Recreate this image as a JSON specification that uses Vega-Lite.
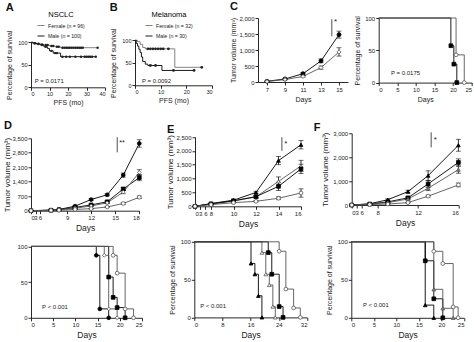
{
"$schema": "https://vega.github.io/schema/vega-lite/v6.json",
"padding": {"left": 3, "top": 1, "right": 0, "bottom": 0},
"background": "white",
"config": {
  "font": "Liberation Sans",
  "view": {"stroke": null},
  "axis": {"grid": false, "domainColor": "#111", "tickColor": "#111", "labelColor": "#222", "titleColor": "#222", "labelFontSize": 6, "titleFontSize": 7, "titleFontWeight": "normal", "tickSize": 3, "labelPadding": 1, "titlePadding": 3, "domainWidth": 0.9, "tickWidth": 0.9, "labelOverlap": false},
  "legend": {"labelFontSize": 5, "labelColor": "#222", "symbolSize": 14, "rowPadding": 2, "labelOffset": 3, "symbolStrokeWidth": 0.8, "padding": 0},
  "title": {"fontSize": 11, "fontWeight": "bold", "anchor": "start", "frame": "bounds", "color": "#111"},
  "text": {"fontSize": 6, "color": "#222"},
  "line": {"strokeWidth": 0.9}
},
"datasets": {
  "A": [
    {"g":"Female (n = 96)","t":0,"s":100},{"g":"Female (n = 96)","t":1,"s":98},{"g":"Female (n = 96)","t":3,"s":97},{"g":"Female (n = 96)","t":5,"s":95},{"g":"Female (n = 96)","t":7,"s":94},{"g":"Female (n = 96)","t":10,"s":92},{"g":"Female (n = 96)","t":13,"s":90},{"g":"Female (n = 96)","t":16,"s":88},{"g":"Female (n = 96)","t":36,"s":88},
    {"g":"Male (n = 100)","t":0,"s":100},{"g":"Male (n = 100)","t":1,"s":98},{"g":"Male (n = 100)","t":3,"s":96},{"g":"Male (n = 100)","t":5,"s":94},{"g":"Male (n = 100)","t":7,"s":90},{"g":"Male (n = 100)","t":9,"s":86},{"g":"Male (n = 100)","t":10,"s":81},{"g":"Male (n = 100)","t":12,"s":76},{"g":"Male (n = 100)","t":16,"s":68},{"g":"Male (n = 100)","t":35,"s":68}
  ],
  "Acens": [
    {"g":"Female (n = 96)","t":2,"s":98},{"g":"Female (n = 96)","t":4,"s":97},{"g":"Female (n = 96)","t":6,"s":95},{"g":"Female (n = 96)","t":8,"s":94},{"g":"Female (n = 96)","t":9,"s":94},{"g":"Female (n = 96)","t":11,"s":92},{"g":"Female (n = 96)","t":12,"s":92},{"g":"Female (n = 96)","t":14,"s":90},{"g":"Female (n = 96)","t":15,"s":90},{"g":"Female (n = 96)","t":17,"s":88},{"g":"Female (n = 96)","t":18,"s":88},{"g":"Female (n = 96)","t":19,"s":88},{"g":"Female (n = 96)","t":20,"s":88},{"g":"Female (n = 96)","t":21,"s":88},{"g":"Female (n = 96)","t":22,"s":88},{"g":"Female (n = 96)","t":23,"s":88},{"g":"Female (n = 96)","t":24,"s":88},{"g":"Female (n = 96)","t":25,"s":88},{"g":"Female (n = 96)","t":26,"s":88},{"g":"Female (n = 96)","t":27,"s":88},{"g":"Female (n = 96)","t":28,"s":88},{"g":"Female (n = 96)","t":36,"s":88},
    {"g":"Male (n = 100)","t":2,"s":98},{"g":"Male (n = 100)","t":4,"s":96},{"g":"Male (n = 100)","t":6,"s":94},{"g":"Male (n = 100)","t":8,"s":90},{"g":"Male (n = 100)","t":11,"s":81},{"g":"Male (n = 100)","t":13,"s":76},{"g":"Male (n = 100)","t":14,"s":76},{"g":"Male (n = 100)","t":17,"s":68},{"g":"Male (n = 100)","t":19,"s":68},{"g":"Male (n = 100)","t":21,"s":68},{"g":"Male (n = 100)","t":24,"s":68},{"g":"Male (n = 100)","t":27,"s":68},{"g":"Male (n = 100)","t":29,"s":68},{"g":"Male (n = 100)","t":30,"s":68},{"g":"Male (n = 100)","t":31,"s":68},{"g":"Male (n = 100)","t":32,"s":68},{"g":"Male (n = 100)","t":33,"s":68},{"g":"Male (n = 100)","t":35,"s":68}
  ],
  "B": [
    {"g":"Female (n = 32)","t":0,"s":100},{"g":"Female (n = 32)","t":1,"s":97},{"g":"Female (n = 32)","t":2,"s":91},{"g":"Female (n = 32)","t":3,"s":84},{"g":"Female (n = 32)","t":4,"s":81},{"g":"Female (n = 32)","t":15.5,"s":40},{"g":"Female (n = 32)","t":26,"s":40},
    {"g":"Male (n = 30)","t":0,"s":100},{"g":"Male (n = 30)","t":0.5,"s":93},{"g":"Male (n = 30)","t":1,"s":87},{"g":"Male (n = 30)","t":1.5,"s":80},{"g":"Male (n = 30)","t":2,"s":73},{"g":"Male (n = 30)","t":2.5,"s":63},{"g":"Male (n = 30)","t":3,"s":53},{"g":"Male (n = 30)","t":4,"s":47},{"g":"Male (n = 30)","t":5,"s":44},{"g":"Male (n = 30)","t":10.5,"s":33},{"g":"Male (n = 30)","t":23,"s":33}
  ],
  "Bcens": [
    {"g":"Female (n = 32)","t":5,"s":81},{"g":"Female (n = 32)","t":6,"s":81},{"g":"Female (n = 32)","t":7,"s":81},{"g":"Female (n = 32)","t":8,"s":81},{"g":"Female (n = 32)","t":9,"s":81},{"g":"Female (n = 32)","t":10,"s":81},{"g":"Female (n = 32)","t":11,"s":81},{"g":"Female (n = 32)","t":13,"s":81},{"g":"Female (n = 32)","t":26,"s":40},
    {"g":"Male (n = 30)","t":6,"s":44},{"g":"Male (n = 30)","t":8,"s":44},{"g":"Male (n = 30)","t":15,"s":33},{"g":"Male (n = 30)","t":23,"s":33}
  ],
  "C": [
    {"g":"Male + Anti-PD-1 Ab","day":7,"v":22,"e":8},{"g":"Male + Anti-PD-1 Ab","day":9,"v":95,"e":15},{"g":"Male + Anti-PD-1 Ab","day":11,"v":260,"e":35},{"g":"Male + Anti-PD-1 Ab","day":13,"v":660,"e":60},{"g":"Male + Anti-PD-1 Ab","day":15,"v":1480,"e":110},
    {"g":"Female + Anti-PD-1 Ab","day":7,"v":15,"e":6},{"g":"Female + Anti-PD-1 Ab","day":9,"v":75,"e":12},{"g":"Female + Anti-PD-1 Ab","day":11,"v":175,"e":25},{"g":"Female + Anti-PD-1 Ab","day":13,"v":450,"e":50},{"g":"Female + Anti-PD-1 Ab","day":15,"v":940,"e":130}
  ],
  "Cr": [
    {"g":"Male","t":0,"s":100},{"g":"Male","t":19.4,"s":57.1},{"g":"Male","t":20.2,"s":28.6},{"g":"Male","t":21,"s":0},
    {"g":"Female","t":0,"s":100},{"g":"Female","t":20.8,"s":42.9},{"g":"Female","t":23,"s":0}
  ],
  "D": [
    {"g":"Testosterone","day":0,"v":0,"e":0},{"g":"Testosterone","day":7,"v":30,"e":5},{"g":"Testosterone","day":8,"v":60,"e":10},{"g":"Testosterone","day":10,"v":220,"e":25},{"g":"Testosterone","day":12,"v":540,"e":40},{"g":"Testosterone","day":14,"v":770,"e":50},{"g":"Testosterone","day":16,"v":1720,"e":100},{"g":"Testosterone","day":18,"v":3250,"e":180},
    {"g":"Testosterone + Anti-PD-1 Ab","day":0,"v":0,"e":0},{"g":"Testosterone + Anti-PD-1 Ab","day":7,"v":20,"e":5},{"g":"Testosterone + Anti-PD-1 Ab","day":8,"v":45,"e":8},{"g":"Testosterone + Anti-PD-1 Ab","day":10,"v":160,"e":20},{"g":"Testosterone + Anti-PD-1 Ab","day":12,"v":280,"e":30},{"g":"Testosterone + Anti-PD-1 Ab","day":14,"v":430,"e":40},{"g":"Testosterone + Anti-PD-1 Ab","day":16,"v":1050,"e":80},{"g":"Testosterone + Anti-PD-1 Ab","day":18,"v":1600,"e":150},
    {"g":"Vehicle","day":0,"v":0,"e":0},{"g":"Vehicle","day":7,"v":25,"e":5},{"g":"Vehicle","day":8,"v":50,"e":8},{"g":"Vehicle","day":10,"v":120,"e":15},{"g":"Vehicle","day":12,"v":230,"e":25},{"g":"Vehicle","day":14,"v":380,"e":35},{"g":"Vehicle","day":16,"v":900,"e":80},{"g":"Vehicle","day":18,"v":1850,"e":130},
    {"g":"Vehicle + Anti-PD-1 Ab","day":0,"v":0,"e":0},{"g":"Vehicle + Anti-PD-1 Ab","day":7,"v":15,"e":4},{"g":"Vehicle + Anti-PD-1 Ab","day":8,"v":25,"e":5},{"g":"Vehicle + Anti-PD-1 Ab","day":10,"v":60,"e":10},{"g":"Vehicle + Anti-PD-1 Ab","day":12,"v":100,"e":15},{"g":"Vehicle + Anti-PD-1 Ab","day":14,"v":180,"e":25},{"g":"Vehicle + Anti-PD-1 Ab","day":16,"v":350,"e":50},{"g":"Vehicle + Anti-PD-1 Ab","day":18,"v":650,"e":60}
  ],
  "E": [
    {"g":"Sham + PBS","day":0,"v":0,"e":0},{"g":"Sham + PBS","day":8,"v":100,"e":15},{"g":"Sham + PBS","day":10,"v":220,"e":20},{"g":"Sham + PBS","day":12,"v":500,"e":40},{"g":"Sham + PBS","day":14,"v":1650,"e":150},{"g":"Sham + PBS","day":16,"v":2220,"e":150},
    {"g":"Orchiectomy + PBS","day":0,"v":0,"e":0},{"g":"Orchiectomy + PBS","day":8,"v":80,"e":10},{"g":"Orchiectomy + PBS","day":10,"v":190,"e":20},{"g":"Orchiectomy + PBS","day":12,"v":340,"e":40},{"g":"Orchiectomy + PBS","day":14,"v":900,"e":160},{"g":"Orchiectomy + PBS","day":16,"v":1460,"e":200},
    {"g":"Sham+ Anti-PD-1 Ab","day":0,"v":0,"e":0},{"g":"Sham+ Anti-PD-1 Ab","day":8,"v":90,"e":10},{"g":"Sham+ Anti-PD-1 Ab","day":10,"v":200,"e":20},{"g":"Sham+ Anti-PD-1 Ab","day":12,"v":350,"e":40},{"g":"Sham+ Anti-PD-1 Ab","day":14,"v":720,"e":150},{"g":"Sham+ Anti-PD-1 Ab","day":16,"v":1350,"e":170},
    {"g":"Orchiectomy+ Anti-PD-1 Ab","day":0,"v":0,"e":0},{"g":"Orchiectomy+ Anti-PD-1 Ab","day":8,"v":60,"e":10},{"g":"Orchiectomy+ Anti-PD-1 Ab","day":10,"v":130,"e":15},{"g":"Orchiectomy+ Anti-PD-1 Ab","day":12,"v":180,"e":25},{"g":"Orchiectomy+ Anti-PD-1 Ab","day":14,"v":290,"e":50},{"g":"Orchiectomy+ Anti-PD-1 Ab","day":16,"v":480,"e":150}
  ],
  "F": [
    {"g":"Male Arʷᵗ + PBS","day":0,"v":0,"e":0},{"g":"Male Arʷᵗ + PBS","day":7,"v":50,"e":10},{"g":"Male Arʷᵗ + PBS","day":9,"v":220,"e":40},{"g":"Male Arʷᵗ + PBS","day":11,"v":560,"e":60},{"g":"Male Arʷᵗ + PBS","day":13,"v":1230,"e":200},{"g":"Male Arʷᵗ + PBS","day":16,"v":2500,"e":250},
    {"g":"Male Arʷᵗ + Anti-PD-1 Ab","day":0,"v":0,"e":0},{"g":"Male Arʷᵗ + Anti-PD-1 Ab","day":7,"v":40,"e":10},{"g":"Male Arʷᵗ + Anti-PD-1 Ab","day":9,"v":130,"e":30},{"g":"Male Arʷᵗ + Anti-PD-1 Ab","day":11,"v":300,"e":50},{"g":"Male Arʷᵗ + Anti-PD-1 Ab","day":13,"v":880,"e":150},{"g":"Male Arʷᵗ + Anti-PD-1 Ab","day":16,"v":1780,"e":150},
    {"g":"Male Arᵀᶠᵐ + PBS","day":0,"v":0,"e":0},{"g":"Male Arᵀᶠᵐ + PBS","day":7,"v":30,"e":8},{"g":"Male Arᵀᶠᵐ + PBS","day":9,"v":100,"e":20},{"g":"Male Arᵀᶠᵐ + PBS","day":11,"v":250,"e":40},{"g":"Male Arᵀᶠᵐ + PBS","day":13,"v":700,"e":100},{"g":"Male Arᵀᶠᵐ + PBS","day":16,"v":1480,"e":150},
    {"g":"Male Arᵀᶠᵐ + Anti-PD-1 Ab","day":0,"v":0,"e":0},{"g":"Male Arᵀᶠᵐ + Anti-PD-1 Ab","day":7,"v":20,"e":5},{"g":"Male Arᵀᶠᵐ + Anti-PD-1 Ab","day":9,"v":40,"e":10},{"g":"Male Arᵀᶠᵐ + Anti-PD-1 Ab","day":11,"v":100,"e":20},{"g":"Male Arᵀᶠᵐ + Anti-PD-1 Ab","day":13,"v":370,"e":40},{"g":"Male Arᵀᶠᵐ + Anti-PD-1 Ab","day":16,"v":840,"e":80}
  ],
  "Ds": [
    {"g":"Testosterone","t":0,"s":100},{"g":"Testosterone","t":14.7,"s":87.5},{"g":"Testosterone","t":15.5,"s":12.5},{"g":"Testosterone","t":17.5,"s":0},
    {"g":"Testosterone + Anti-PD-1 Ab","t":0,"s":100},{"g":"Testosterone + Anti-PD-1 Ab","t":17.5,"s":57.1},{"g":"Testosterone + Anti-PD-1 Ab","t":18.5,"s":28.6},{"g":"Testosterone + Anti-PD-1 Ab","t":19.4,"s":14.3},{"g":"Testosterone + Anti-PD-1 Ab","t":21.2,"s":0},
    {"g":"Vehicle","t":0,"s":100},{"g":"Vehicle","t":16.5,"s":87.5},{"g":"Vehicle","t":17.5,"s":12.5},{"g":"Vehicle","t":19.4,"s":0},
    {"g":"Vehicle + Anti-PD-1 Ab","t":0,"s":100},{"g":"Vehicle + Anti-PD-1 Ab","t":18.5,"s":87.5},{"g":"Vehicle + Anti-PD-1 Ab","t":19.4,"s":62.5},{"g":"Vehicle + Anti-PD-1 Ab","t":21.2,"s":12.5},{"g":"Vehicle + Anti-PD-1 Ab","t":23.1,"s":0}
  ],
  "Es": [
    {"g":"Sham + PBS","t":0,"s":100},{"g":"Sham + PBS","t":16.1,"s":71.4},{"g":"Sham + PBS","t":17.2,"s":57.1},{"g":"Sham + PBS","t":18.2,"s":28.6},{"g":"Sham + PBS","t":19.2,"s":0},
    {"g":"Orchiectomy + PBS","t":0,"s":100},{"g":"Orchiectomy + PBS","t":19.2,"s":85.7},{"g":"Orchiectomy + PBS","t":20.3,"s":57.1},{"g":"Orchiectomy + PBS","t":21.3,"s":42.9},{"g":"Orchiectomy + PBS","t":22.3,"s":14.3},{"g":"Orchiectomy + PBS","t":23,"s":0},
    {"g":"Sham+ Anti-PD-1 Ab","t":0,"s":100},{"g":"Sham+ Anti-PD-1 Ab","t":21,"s":85.7},{"g":"Sham+ Anti-PD-1 Ab","t":22,"s":57.1},{"g":"Sham+ Anti-PD-1 Ab","t":24.1,"s":14.3},{"g":"Sham+ Anti-PD-1 Ab","t":25.2,"s":0},
    {"g":"Orchiectomy+ Anti-PD-1 Ab","t":0,"s":100},{"g":"Orchiectomy+ Anti-PD-1 Ab","t":24.1,"s":87.5},{"g":"Orchiectomy+ Anti-PD-1 Ab","t":26,"s":37.5},{"g":"Orchiectomy+ Anti-PD-1 Ab","t":28.2,"s":12.5},{"g":"Orchiectomy+ Anti-PD-1 Ab","t":30.1,"s":0}
  ],
  "Fs": [
    {"g":"Male Arʷᵗ + PBS","t":0,"s":100},{"g":"Male Arʷᵗ + PBS","t":16.4,"s":16.7},{"g":"Male Arʷᵗ + PBS","t":18.3,"s":0},
    {"g":"Male Arʷᵗ + Anti-PD-1 Ab","t":0,"s":100},{"g":"Male Arʷᵗ + Anti-PD-1 Ab","t":16.4,"s":75},{"g":"Male Arʷᵗ + Anti-PD-1 Ab","t":18.3,"s":25},{"g":"Male Arʷᵗ + Anti-PD-1 Ab","t":20.3,"s":0},
    {"g":"Male Arᵀᶠᵐ + PBS","t":0,"s":100},{"g":"Male Arᵀᶠᵐ + PBS","t":18.3,"s":37.5},{"g":"Male Arᵀᶠᵐ + PBS","t":20.3,"s":12.5},{"g":"Male Arᵀᶠᵐ + PBS","t":22.6,"s":0},
    {"g":"Male Arᵀᶠᵐ + Anti-PD-1 Ab","t":0,"s":100},{"g":"Male Arᵀᶠᵐ + Anti-PD-1 Ab","t":18.3,"s":87.5},{"g":"Male Arᵀᶠᵐ + Anti-PD-1 Ab","t":20.3,"s":71.4},{"g":"Male Arᵀᶠᵐ + Anti-PD-1 Ab","t":22.6,"s":14.3},{"g":"Male Arᵀᶠᵐ + Anti-PD-1 Ab","t":23.7,"s":0}
  ]
},
"spacing": 13.3,
"bounds": "full",
"resolve": {"scale": {"color": "independent", "fill": "independent", "stroke": "independent", "shape": "independent"}},
"vconcat": [
 {
  "spacing": 30, "bounds": "flush",
  "resolve": {"scale": {"color": "independent", "fill": "independent", "stroke": "independent", "shape": "independent"}},
  "hconcat": [
   {
    "title": {"text": "A", "offset": -2},
    "width": 74, "height": 69.3,
    "encoding": {
      "x": {"field": "t", "type": "quantitative", "scale": {"domain": [0, 40], "nice": false}, "axis": {"values": [0, 10, 20, 30, 40], "title": "PFS (mo)", "labelFontSize": 5.5, "titlePadding": 2}},
      "y": {"field": "s", "type": "quantitative", "scale": {"domain": [0, 100], "range": [69.3, 24.3], "nice": false}, "axis": {"values": [0, 50, 100], "title": "Percentage of survival", "labelFontSize": 5.5, "titlePadding": 5}}
    },
    "layer": [
      {"data": {"name": "A"}, "mark": {"type": "line", "interpolate": "step-after"},
       "encoding": {"stroke": {"field": "g", "type": "nominal", "scale": {"domain": ["Female (n = 96)", "Male (n = 100)"], "range": ["#777", "#000"]},
         "legend": {"orient": "none", "legendX": 6, "legendY": -7, "title": "NSCLC", "titleFontSize": 7.5, "titleFontWeight": "normal", "titleAnchor": "middle", "titlePadding": 3, "labelFontSize": 5.2, "symbolType": "stroke", "symbolSize": 50, "symbolStrokeWidth": 1.2, "rowPadding": 2.5}}}},
      {"data": {"name": "Acens"}, "mark": {"type": "point", "filled": true, "size": 6, "opacity": 1, "color": "#222"}},
      {"data": {"values": [{"t": 2, "s": 13, "label": "P = 0.0171"}]}, "mark": {"type": "text", "align": "left"}, "encoding": {"text": {"field": "label"}}}
    ]
   },
   {
    "spacing": 46, "bounds": "flush",
    "resolve": {"scale": {"color": "independent", "fill": "independent", "stroke": "independent", "shape": "independent"}},
    "hconcat": [
     {
      "title": {"text": "B", "offset": -2},
      "width": 77, "height": 67.3,
      "encoding": {
        "x": {"field": "t", "type": "quantitative", "scale": {"domain": [0, 30], "nice": false}, "axis": {"values": [0, 10, 20, 30], "title": "PFS (mo)", "labelFontSize": 5.5, "titlePadding": 2}},
        "y": {"field": "s", "type": "quantitative", "scale": {"domain": [0, 100], "range": [67.3, 22.3], "nice": false}, "axis": {"values": [0, 50, 100], "title": "Percentage of survival", "labelFontSize": 5.5, "titlePadding": 5}}
      },
      "layer": [
        {"data": {"name": "B"}, "mark": {"type": "line", "interpolate": "step-after"},
         "encoding": {"stroke": {"field": "g", "type": "nominal", "scale": {"domain": ["Female (n = 32)", "Male (n = 30)"], "range": ["#777", "#000"]},
           "legend": {"orient": "none", "legendX": 10, "legendY": -7, "title": "Melanoma", "titleFontSize": 7.5, "titleFontWeight": "normal", "titleAnchor": "middle", "titlePadding": 3, "labelFontSize": 5.2, "symbolType": "stroke", "symbolSize": 50, "symbolStrokeWidth": 1.2, "rowPadding": 2.5}}}},
        {"data": {"name": "Bcens"}, "mark": {"type": "point", "filled": true, "size": 8, "opacity": 1, "color": "#222"}},
        {"data": {"values": [{"t": 2.7, "s": 9, "label": "P = 0.0092"}]}, "mark": {"type": "text", "align": "left"}, "encoding": {"text": {"field": "label"}}}
      ]
     },
     {
      "spacing": 30.7, "bounds": "flush",
      "resolve": {"scale": {"color": "independent", "fill": "independent", "stroke": "independent", "shape": "independent"}},
      "hconcat": [
       {
        "title": {"text": "C", "offset": 2.7},
        "width": 90, "height": 64,
        "encoding": {
          "x": {"field": "day", "type": "quantitative", "scale": {"domain": [6, 16], "nice": false, "zero": false}, "axis": {"values": [7, 9, 11, 13, 15], "title": "Days"}},
          "y": {"field": "v", "type": "quantitative", "scale": {"domain": [0, 2000], "nice": false}, "axis": {"values": [0, 500, 1000, 1500, 2000], "labelExpr": "format(datum.value, ',')", "title": "Tumor volume (mm³)", "titleFontSize": 7, "titlePadding": 2}}
        },
        "layer": [
          {"data": {"name": "C"}, "mark": {"type": "line"}, "encoding": {"stroke": {"field": "g", "type": "nominal", "scale": {"domain": ["Male + Anti-PD-1 Ab", "Female + Anti-PD-1 Ab"], "range": ["#000", "#555"]}, "legend": null}}},
          {"data": {"name": "C"}, "mark": {"type": "errorbar", "ticks": true, "color": "#000", "thickness": 0.8}, "encoding": {"yError": {"field": "e"}}},
          {"data": {"name": "C"}, "mark": {"type": "point", "filled": true, "size": 16, "strokeWidth": 0.8, "opacity": 1},
           "encoding": {
             "shape": {"field": "g", "type": "nominal", "scale": {"domain": ["Male + Anti-PD-1 Ab", "Female + Anti-PD-1 Ab"], "range": ["circle", "diamond"]}, "legend": {"orient": "none", "legendX": 3, "legendY": 3, "title": null, "labelFontSize": 5.2, "rowPadding": 4.5}},
             "fill": {"field": "g", "type": "nominal", "scale": {"domain": ["Male + Anti-PD-1 Ab", "Female + Anti-PD-1 Ab"], "range": ["#000", "#fff"]}, "legend": {"orient": "none", "legendX": 3, "legendY": 3, "title": null, "labelFontSize": 5.2, "rowPadding": 4.5}},
             "stroke": {"field": "g", "type": "nominal", "scale": {"domain": ["Male + Anti-PD-1 Ab", "Female + Anti-PD-1 Ab"], "range": ["#000", "#555"]}, "legend": {"orient": "none", "legendX": 3, "legendY": 3, "title": null, "labelFontSize": 5.2, "rowPadding": 4.5}}
           }},
          {"data": {"values": [{"day": 14.2, "v": 1960, "v2": 1430}]}, "mark": {"type": "rule", "strokeWidth": 0.8, "color": "#222"}, "encoding": {"y2": {"field": "v2"}}},
          {"data": {"values": [{"day": 14.45, "v": 1860, "label": "*"}]}, "mark": {"type": "text", "align": "left", "fontSize": 8}, "encoding": {"text": {"field": "label"}}}
        ]
       },
       {
        "width": 93, "height": 64.6,
        "encoding": {
          "x": {"field": "t", "type": "quantitative", "scale": {"domain": [0, 25], "nice": false}, "axis": {"values": [0, 5, 10, 15, 20, 25], "title": "Days"}},
          "y": {"field": "s", "type": "quantitative", "scale": {"domain": [0, 100], "nice": false}, "axis": {"values": [0, 50, 100], "title": "Percentage of survival", "titlePadding": 4}}
        },
        "layer": [
          {"data": {"name": "Cr"}, "mark": {"type": "line", "interpolate": "step-after"}, "encoding": {"stroke": {"field": "g", "type": "nominal", "scale": {"domain": ["Male", "Female"], "range": ["#000", "#555"]}, "legend": null}}},
          {"data": {"name": "Cr"}, "transform": [{"filter": "datum.t > 0"}], "mark": {"type": "point", "filled": true, "size": 14, "strokeWidth": 0.8, "opacity": 1},
           "encoding": {
             "shape": {"field": "g", "type": "nominal", "scale": {"domain": ["Male", "Female"], "range": ["square", "circle"]}, "legend": null},
             "fill": {"field": "g", "type": "nominal", "scale": {"domain": ["Male", "Female"], "range": ["#000", "#fff"]}, "legend": null},
             "stroke": {"field": "g", "type": "nominal", "scale": {"domain": ["Male", "Female"], "range": ["#000", "#555"]}, "legend": null}
           }},
          {"data": {"values": [{"t": 3.3, "s": 15, "label": "P = 0.0175"}]}, "mark": {"type": "text", "align": "left"}, "encoding": {"text": {"field": "label"}}}
        ]
       }
      ]
     }
    ]
   }
  ]
 },
 {
  "spacing": 6.5, "bounds": "full",
  "resolve": {"scale": {"color": "independent", "fill": "independent", "stroke": "independent", "shape": "independent"}},
  "vconcat": [
   {
    "spacing": 55, "bounds": "flush",
    "resolve": {"scale": {"color": "independent", "fill": "independent", "stroke": "independent", "shape": "independent"}},
    "hconcat": [
     {
      "title": {"text": "D", "offset": 2.5},
      "width": 108.3, "height": 77.4,
      "encoding": {
        "x": {"field": "day", "type": "quantitative", "scale": {"domain": [0, 6, 7, 18], "range": [0, 9, 20, 108.3], "nice": false, "zero": false}, "axis": {"values": [0, 3, 6, 9, 12, 15, 18], "title": "Days", "titleFontSize": 8.5}},
        "y": {"field": "v", "type": "quantitative", "scale": {"domain": [0, 3500], "range": [77.4, 5], "nice": false}, "axis": {"values": [0, 700, 1400, 2100, 2800, 3500], "labelExpr": "format(datum.value, ',')", "title": "Tumor volume (mm³)", "titleFontSize": 8, "titlePadding": 0}}
      },
      "layer": [
        {"data": {"name": "D"}, "mark": {"type": "line"}, "encoding": {"stroke": {"field": "g", "type": "nominal", "scale": {"domain": ["Testosterone", "Testosterone + Anti-PD-1 Ab", "Vehicle", "Vehicle + Anti-PD-1 Ab"], "range": ["#000", "#000", "#555", "#555"]}, "legend": null}}},
        {"data": {"name": "D"}, "mark": {"type": "errorbar", "ticks": true, "color": "#000", "thickness": 0.8}, "encoding": {"yError": {"field": "e"}}},
        {"data": {"name": "D"}, "mark": {"type": "point", "filled": true, "size": 14, "strokeWidth": 0.8, "opacity": 1},
         "encoding": {
           "shape": {"field": "g", "type": "nominal", "scale": {"domain": ["Testosterone", "Testosterone + Anti-PD-1 Ab", "Vehicle", "Vehicle + Anti-PD-1 Ab"], "range": ["circle", "square", "diamond", "circle"]}, "legend": {"orient": "none", "legendX": 7, "legendY": -6.8, "title": null}},
           "fill": {"field": "g", "type": "nominal", "scale": {"domain": ["Testosterone", "Testosterone + Anti-PD-1 Ab", "Vehicle", "Vehicle + Anti-PD-1 Ab"], "range": ["#000", "#000", "#fff", "#fff"]}, "legend": {"orient": "none", "legendX": 7, "legendY": -6.8, "title": null}},
           "stroke": {"field": "g", "type": "nominal", "scale": {"domain": ["Testosterone", "Testosterone + Anti-PD-1 Ab", "Vehicle", "Vehicle + Anti-PD-1 Ab"], "range": ["#000", "#000", "#555", "#555"]}, "legend": {"orient": "none", "legendX": 7, "legendY": -6.8, "title": null}}
         }},
        {"data": {"values": [{"day": 15.25, "v": 3550, "v2": 2820}]}, "mark": {"type": "rule", "strokeWidth": 0.8, "color": "#222"}, "encoding": {"y2": {"field": "v2"}}},
        {"data": {"values": [{"day": 15.5, "v": 3250, "label": "**"}]}, "mark": {"type": "text", "align": "left", "fontSize": 7}, "encoding": {"text": {"field": "label"}}}
      ]
     },
     {
      "spacing": 50.7, "bounds": "flush",
      "resolve": {"scale": {"color": "independent", "fill": "independent", "stroke": "independent", "shape": "independent"}},
      "hconcat": [
       {
        "title": {"text": "E", "offset": -1.5},
        "width": 106, "height": 73,
        "encoding": {
          "x": {"field": "day", "type": "quantitative", "scale": {"domain": [0, 6, 8, 16], "range": [0, 10.4, 16, 106], "nice": false, "zero": false}, "axis": {"values": [0, 3, 6, 8, 10, 12, 14, 16], "title": "Days", "titleFontSize": 8.5}},
          "y": {"field": "v", "type": "quantitative", "scale": {"domain": [0, 2500], "range": [73, 3.7], "nice": false}, "axis": {"values": [0, 500, 1000, 1500, 2000, 2500], "labelExpr": "format(datum.value, ',')", "title": "Tumor volume (mm³)", "titleFontSize": 8, "titlePadding": 1}}
        },
        "layer": [
          {"data": {"name": "E"}, "mark": {"type": "line"}, "encoding": {"stroke": {"field": "g", "type": "nominal", "scale": {"domain": ["Sham + PBS", "Orchiectomy + PBS", "Sham+ Anti-PD-1 Ab", "Orchiectomy+ Anti-PD-1 Ab"], "range": ["#000", "#555", "#000", "#555"]}, "legend": null}}},
          {"data": {"name": "E"}, "mark": {"type": "errorbar", "ticks": true, "color": "#000", "thickness": 0.8}, "encoding": {"yError": {"field": "e"}}},
          {"data": {"name": "E"}, "mark": {"type": "point", "filled": true, "size": 14, "strokeWidth": 0.8, "opacity": 1},
           "encoding": {
             "shape": {"field": "g", "type": "nominal", "scale": {"domain": ["Sham + PBS", "Orchiectomy + PBS", "Sham+ Anti-PD-1 Ab", "Orchiectomy+ Anti-PD-1 Ab"], "range": ["triangle-up", "triangle-up", "square", "circle"]}, "legend": {"orient": "none", "legendX": 7, "legendY": -11.8, "title": null}},
             "fill": {"field": "g", "type": "nominal", "scale": {"domain": ["Sham + PBS", "Orchiectomy + PBS", "Sham+ Anti-PD-1 Ab", "Orchiectomy+ Anti-PD-1 Ab"], "range": ["#000", "#fff", "#000", "#fff"]}, "legend": {"orient": "none", "legendX": 7, "legendY": -11.8, "title": null}},
             "stroke": {"field": "g", "type": "nominal", "scale": {"domain": ["Sham + PBS", "Orchiectomy + PBS", "Sham+ Anti-PD-1 Ab", "Orchiectomy+ Anti-PD-1 Ab"], "range": ["#000", "#555", "#000", "#555"]}, "legend": {"orient": "none", "legendX": 7, "legendY": -11.8, "title": null}}
           }},
          {"data": {"values": [{"day": 14.3, "v": 2490, "v2": 2000}]}, "mark": {"type": "rule", "strokeWidth": 0.8, "color": "#222"}, "encoding": {"y2": {"field": "v2"}}},
          {"data": {"values": [{"day": 14.5, "v": 2250, "label": "*"}]}, "mark": {"type": "text", "align": "left", "fontSize": 8}, "encoding": {"text": {"field": "label"}}}
        ]
       },
       {
        "title": {"text": "F", "offset": -2.5, "dx": -8},
        "width": 106.7, "height": 71.7,
        "encoding": {
          "x": {"field": "day", "type": "quantitative", "scale": {"domain": [0, 6, 8, 16], "range": [0, 10, 26, 106.7], "nice": false, "zero": false}, "axis": {"values": [0, 3, 6, 8, 12, 16], "title": "Days", "titleFontSize": 8.5}},
          "y": {"field": "v", "type": "quantitative", "scale": {"domain": [0, 3000], "nice": false}, "axis": {"values": [0, 1000, 2000, 3000], "labelExpr": "format(datum.value, ',')", "title": "Tumor volume (mm³)", "titleFontSize": 8, "titlePadding": 3}}
        },
        "layer": [
          {"data": {"name": "F"}, "mark": {"type": "line"}, "encoding": {"stroke": {"field": "g", "type": "nominal", "scale": {"domain": ["Male Arʷᵗ + PBS", "Male Arʷᵗ + Anti-PD-1 Ab", "Male Arᵀᶠᵐ + PBS", "Male Arᵀᶠᵐ + Anti-PD-1 Ab"], "range": ["#000", "#000", "#555", "#555"]}, "legend": null}}},
          {"data": {"name": "F"}, "mark": {"type": "errorbar", "ticks": true, "color": "#000", "thickness": 0.8}, "encoding": {"yError": {"field": "e"}}},
          {"data": {"name": "F"}, "mark": {"type": "point", "filled": true, "size": 14, "strokeWidth": 0.8, "opacity": 1},
           "encoding": {
             "shape": {"field": "g", "type": "nominal", "scale": {"domain": ["Male Arʷᵗ + PBS", "Male Arʷᵗ + Anti-PD-1 Ab", "Male Arᵀᶠᵐ + PBS", "Male Arᵀᶠᵐ + Anti-PD-1 Ab"], "range": ["triangle-up", "square", "triangle-up", "circle"]}, "legend": {"orient": "none", "legendX": 7, "legendY": -10.8, "title": null}},
             "fill": {"field": "g", "type": "nominal", "scale": {"domain": ["Male Arʷᵗ + PBS", "Male Arʷᵗ + Anti-PD-1 Ab", "Male Arᵀᶠᵐ + PBS", "Male Arᵀᶠᵐ + Anti-PD-1 Ab"], "range": ["#000", "#000", "#888", "#fff"]}, "legend": {"orient": "none", "legendX": 7, "legendY": -10.8, "title": null}},
             "stroke": {"field": "g", "type": "nominal", "scale": {"domain": ["Male Arʷᵗ + PBS", "Male Arʷᵗ + Anti-PD-1 Ab", "Male Arᵀᶠᵐ + PBS", "Male Arᵀᶠᵐ + Anti-PD-1 Ab"], "range": ["#000", "#000", "#555", "#555"]}, "legend": {"orient": "none", "legendX": 7, "legendY": -10.8, "title": null}}
           }},
          {"data": {"values": [{"day": 13.3, "v": 3040, "v2": 2410}]}, "mark": {"type": "rule", "strokeWidth": 0.8, "color": "#222"}, "encoding": {"y2": {"field": "v2"}}},
          {"data": {"values": [{"day": 13.55, "v": 2740, "label": "*"}]}, "mark": {"type": "text", "align": "left", "fontSize": 8}, "encoding": {"text": {"field": "label"}}}
        ]
       }
      ]
     }
    ]
   },
   {
    "spacing": 52.3, "bounds": "flush",
    "resolve": {"scale": {"color": "independent", "fill": "independent", "stroke": "independent", "shape": "independent"}},
    "hconcat": [
     {
      "width": 111, "height": 76,
      "encoding": {
        "x": {"field": "t", "type": "quantitative", "scale": {"domain": [0, 25], "nice": false}, "axis": {"values": [0, 5, 10, 15, 20, 25], "title": "Days", "titleFontSize": 8.5}},
        "y": {"field": "s", "type": "quantitative", "scale": {"domain": [0, 100], "range": [76, 4.6], "nice": false}, "axis": {"values": [0, 50, 100], "title": null}}
      },
      "layer": [
        {"data": {"name": "Ds"}, "mark": {"type": "line", "interpolate": "step-after"}, "encoding": {"stroke": {"field": "g", "type": "nominal", "scale": {"domain": ["Testosterone", "Testosterone + Anti-PD-1 Ab", "Vehicle", "Vehicle + Anti-PD-1 Ab"], "range": ["#000", "#000", "#555", "#555"]}, "legend": null}}},
        {"data": {"name": "Ds"}, "transform": [{"filter": "datum.t > 0"}], "mark": {"type": "point", "filled": true, "size": 14, "strokeWidth": 0.8, "opacity": 1},
         "encoding": {
           "shape": {"field": "g", "type": "nominal", "scale": {"domain": ["Testosterone", "Testosterone + Anti-PD-1 Ab", "Vehicle", "Vehicle + Anti-PD-1 Ab"], "range": ["circle", "square", "diamond", "circle"]}, "legend": null},
           "fill": {"field": "g", "type": "nominal", "scale": {"domain": ["Testosterone", "Testosterone + Anti-PD-1 Ab", "Vehicle", "Vehicle + Anti-PD-1 Ab"], "range": ["#000", "#000", "#fff", "#fff"]}, "legend": null},
           "stroke": {"field": "g", "type": "nominal", "scale": {"domain": ["Testosterone", "Testosterone + Anti-PD-1 Ab", "Vehicle", "Vehicle + Anti-PD-1 Ab"], "range": ["#000", "#000", "#555", "#555"]}, "legend": null}
         }},
        {"data": {"values": [{"t": 2.5, "s": 15, "label": "P < 0.001"}]}, "mark": {"type": "text", "align": "left"}, "encoding": {"text": {"field": "label"}}}
      ]
     },
     {
      "spacing": 44, "bounds": "flush",
      "resolve": {"scale": {"color": "independent", "fill": "independent", "stroke": "independent", "shape": "independent"}},
      "hconcat": [
       {
        "width": 112.7, "height": 75.6,
        "encoding": {
          "x": {"field": "t", "type": "quantitative", "scale": {"domain": [0, 32], "nice": false}, "axis": {"values": [0, 8, 16, 24, 32], "title": "Days", "titleFontSize": 8.5}},
          "y": {"field": "s", "type": "quantitative", "scale": {"domain": [0, 100], "nice": false}, "axis": {"values": [0, 50, 100], "title": "Percentage of survival", "titlePadding": 5}}
        },
        "layer": [
          {"data": {"name": "Es"}, "mark": {"type": "line", "interpolate": "step-after"}, "encoding": {"stroke": {"field": "g", "type": "nominal", "scale": {"domain": ["Sham + PBS", "Orchiectomy + PBS", "Sham+ Anti-PD-1 Ab", "Orchiectomy+ Anti-PD-1 Ab"], "range": ["#000", "#555", "#000", "#555"]}, "legend": null}}},
          {"data": {"name": "Es"}, "transform": [{"filter": "datum.t > 0"}], "mark": {"type": "point", "filled": true, "size": 14, "strokeWidth": 0.8, "opacity": 1},
           "encoding": {
             "shape": {"field": "g", "type": "nominal", "scale": {"domain": ["Sham + PBS", "Orchiectomy + PBS", "Sham+ Anti-PD-1 Ab", "Orchiectomy+ Anti-PD-1 Ab"], "range": ["triangle-up", "triangle-up", "square", "circle"]}, "legend": null},
             "fill": {"field": "g", "type": "nominal", "scale": {"domain": ["Sham + PBS", "Orchiectomy + PBS", "Sham+ Anti-PD-1 Ab", "Orchiectomy+ Anti-PD-1 Ab"], "range": ["#000", "#fff", "#000", "#fff"]}, "legend": null},
             "stroke": {"field": "g", "type": "nominal", "scale": {"domain": ["Sham + PBS", "Orchiectomy + PBS", "Sham+ Anti-PD-1 Ab", "Orchiectomy+ Anti-PD-1 Ab"], "range": ["#000", "#555", "#000", "#555"]}, "legend": null}
           }},
          {"data": {"values": [{"t": 1.7, "s": 14.5, "label": "P < 0.001"}]}, "mark": {"type": "text", "align": "left"}, "encoding": {"text": {"field": "label"}}}
        ]
       },
       {
        "width": 112.7, "height": 76,
        "encoding": {
          "x": {"field": "t", "type": "quantitative", "scale": {"domain": [0, 25], "nice": false}, "axis": {"values": [0, 5, 10, 15, 20, 25], "title": "Days", "titleFontSize": 8.5}},
          "y": {"field": "s", "type": "quantitative", "scale": {"domain": [0, 100], "nice": false}, "axis": {"values": [0, 50, 100], "title": "Percentage of survival", "titlePadding": 5}}
        },
        "layer": [
          {"data": {"name": "Fs"}, "mark": {"type": "line", "interpolate": "step-after"}, "encoding": {"stroke": {"field": "g", "type": "nominal", "scale": {"domain": ["Male Arʷᵗ + PBS", "Male Arʷᵗ + Anti-PD-1 Ab", "Male Arᵀᶠᵐ + PBS", "Male Arᵀᶠᵐ + Anti-PD-1 Ab"], "range": ["#000", "#000", "#555", "#555"]}, "legend": null}}},
          {"data": {"name": "Fs"}, "transform": [{"filter": "datum.t > 0"}], "mark": {"type": "point", "filled": true, "size": 14, "strokeWidth": 0.8, "opacity": 1},
           "encoding": {
             "shape": {"field": "g", "type": "nominal", "scale": {"domain": ["Male Arʷᵗ + PBS", "Male Arʷᵗ + Anti-PD-1 Ab", "Male Arᵀᶠᵐ + PBS", "Male Arᵀᶠᵐ + Anti-PD-1 Ab"], "range": ["triangle-up", "square", "triangle-up", "circle"]}, "legend": null},
             "fill": {"field": "g", "type": "nominal", "scale": {"domain": ["Male Arʷᵗ + PBS", "Male Arʷᵗ + Anti-PD-1 Ab", "Male Arᵀᶠᵐ + PBS", "Male Arᵀᶠᵐ + Anti-PD-1 Ab"], "range": ["#000", "#000", "#888", "#fff"]}, "legend": null},
             "stroke": {"field": "g", "type": "nominal", "scale": {"domain": ["Male Arʷᵗ + PBS", "Male Arʷᵗ + Anti-PD-1 Ab", "Male Arᵀᶠᵐ + PBS", "Male Arᵀᶠᵐ + Anti-PD-1 Ab"], "range": ["#000", "#000", "#555", "#555"]}, "legend": null}
           }},
          {"data": {"values": [{"t": 2.6, "s": 16.5, "label": "P < 0.001"}]}, "mark": {"type": "text", "align": "left"}, "encoding": {"text": {"field": "label"}}}
        ]
       }
      ]
     }
    ]
   }
  ]
 }
]
}
